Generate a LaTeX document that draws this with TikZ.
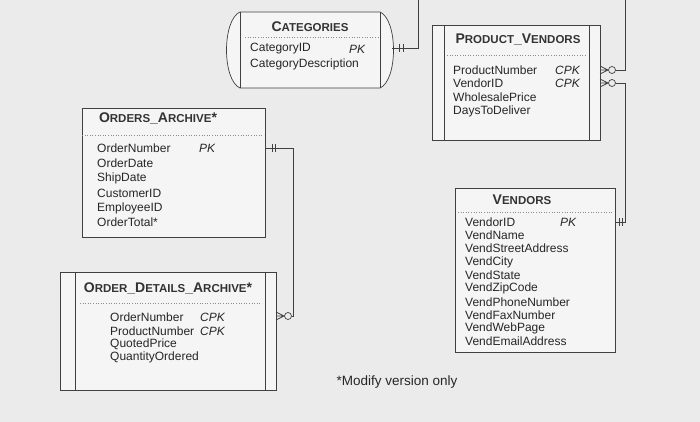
\documentclass[tikz,border=0pt]{standalone}
\usepackage{fontspec}
\setmainfont{Liberation Sans}
\newcommand{\sccaps}[1]{{\fontsize{11.5}{13}\selectfont #1}}
\begin{document}
\begin{tikzpicture}[x=1pt,y=-1pt,
  ln/.style={draw=black!75,line width=0.7pt},
  box/.style={ln,fill=black!4,rectangle,inner sep=0pt,anchor=north west},
  tt/.style={font=\fontsize{14}{16}\selectfont\bfseries,text=black!80},
  fld/.style={font=\fontsize{12}{14}\selectfont,text=black!85,anchor=west,inner sep=0pt},
  key/.style={font=\fontsize{12}{14}\selectfont\itshape,text=black!85,anchor=west,inner sep=0pt},
  dot/.style={draw=black!45,dotted,line width=0.6pt}]
\fill[black!8] (0,0) rectangle (700,422);
\useasboundingbox (0,0) rectangle (700,422);
% CATEGORIES
\draw[ln,fill=black!4] (240,12) -- (380,12) .. controls (398,20) and (398,80) .. (380,88) -- (240,88) .. controls (222,80) and (222,20) .. (240,12) -- cycle;
\draw[ln] (240,12) -- (240,88) (380,12) -- (380,88);
\node[tt] (cat) at (310,27) {C\sccaps{ATEGORIES}};
\draw[dot] (245,37) -- (378,37);
\node[fld] at (250,49) {CategoryID};
\node[key] at (349,49) {PK};
\node[fld] at (250,64) {CategoryDescription};
\coordinate (catR) at (392,48);
% PRODUCT_VENDORS
\node[box,minimum width=168pt,minimum height=115pt] (pv) at (432,25) {};
\draw[ln] (444,25) -- (444,140) (589,25) -- (589,140);
\node[tt] at (518,40) {P\sccaps{RODUCT}\_V\sccaps{ENDORS}};
\draw[dot] (447,55) -- (587,55);
\node[fld] at (453,70) {ProductNumber};
\node[key] at (555,70) {CPK};
\node[fld] at (453,83) {VendorID};
\node[key] at (555,83) {CPK};
\node[fld] at (453,97) {WholesalePrice};
\node[fld] at (453,111) {DaysToDeliver};
% ORDERS_ARCHIVE
\node[box,minimum width=183pt,minimum height=129pt] (oa) at (82,108) {};
\node[tt] at (158,118) {O\sccaps{RDERS}\_A\sccaps{RCHIVE}*};
\draw[dot] (82,135) -- (264,135);
\node[fld] at (97,148) {OrderNumber};
\node[key] at (199,148) {PK};
\node[fld] at (97,163) {OrderDate};
\node[fld] at (97,178) {ShipDate};
\node[fld] at (97,193) {CustomerID};
\node[fld] at (97,208) {EmployeeID};
\node[fld] at (97,222) {OrderTotal*};
% ORDER_DETAILS_ARCHIVE
\node[box,minimum width=216pt,minimum height=118pt] (od) at (60,272) {};
\draw[ln] (75,272) -- (75,390) (265,272) -- (265,390);
\node[tt] at (168,288) {O\sccaps{RDER}\_D\sccaps{ETAILS}\_A\sccaps{RCHIVE}*};
\draw[dot] (80,303) -- (262,303);
\node[fld] at (110,317) {OrderNumber};
\node[key] at (200,317) {CPK};
\node[fld] at (110,331) {ProductNumber};
\node[key] at (200,331) {CPK};
\node[fld] at (110,344) {QuotedPrice};
\node[fld] at (110,357) {QuantityOrdered};
% VENDORS
\node[box,minimum width=160pt,minimum height=164pt] (v) at (455,188) {};
\node[tt] at (522,200) {V\sccaps{ENDORS}};
\draw[dot] (458,212) -- (613,212);
\node[fld] at (465,222) {VendorID};
\node[key] at (560,222) {PK};
\foreach \t [count=\i] in {VendName,VendStreetAddress,VendCity,VendState,VendZipCode,VendPhoneNumber,VendFaxNumber,VendWebPage,VendEmailAddress}
  \node[fld] at (465,222+13.3*\i) {\t};
% connectors
\coordinate (topA) at (418,0);
\coordinate (topB) at (625,0);
\draw[ln] (catR) -- (418,48) -- (topA);
\draw[ln] (399,44) -- (399,52) (403,44) -- (403,52);
\draw[ln] (600,66) -- (608,70) (600,70) -- (608,70) (600,74) -- (608,70);
\draw[ln] (612,70) circle (3.5);
\draw[ln] (615.5,70) -- (625,70) -- (topB);
\draw[ln] (600,79) -- (608,83) (600,83) -- (608,83) (600,87) -- (608,83);
\draw[ln] (612,83) circle (3.5);
\draw[ln] (615.5,83) -- (625,83) -- (625,222) -- (v.north east |- 0,222);
\draw[ln] (619,218) -- (619,226) (622,218) -- (622,226);
\draw[ln] (oa.north east |- 0,148) -- (293,148) -- (293,316) -- (291.5,316);
\draw[ln] (272,144) -- (272,152) (275,144) -- (275,152);
\draw[ln] (288,316) circle (3.5);
\draw[ln] (276,312) -- (284,316) (276,316) -- (284,316) (276,320) -- (284,316);
\node[font=\fontsize{13.5}{15}\selectfont,text=black!85] (note) at (397,382) {*Modify version only};
\end{tikzpicture}
\end{document}
